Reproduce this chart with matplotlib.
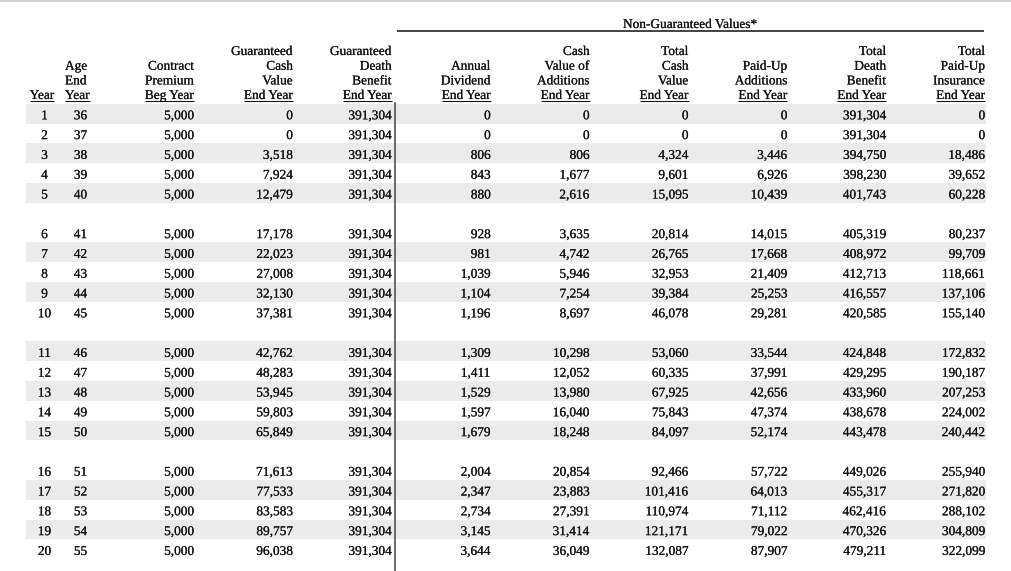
import matplotlib
matplotlib.use("Agg")
import matplotlib.pyplot as plt
import matplotlib.patheffects as pe

# table values
years = list(range(1, 21))
ages = list(range(36, 56))
premium = [5000] * 20
guar_cash = [0, 0, 3518, 7924, 12479, 17178, 22023, 27008, 32130, 37381,
             42762, 48283, 53945, 59803, 65849, 71613, 77533, 83583, 89757, 96038]
guar_death = [391304] * 20
dividend = [0, 0, 806, 843, 880, 928, 981, 1039, 1104, 1196,
            1309, 1411, 1529, 1597, 1679, 2004, 2347, 2734, 3145, 3644]
cash_additions = [0, 0, 806, 1677, 2616, 3635, 4742, 5946, 7254, 8697,
                  10298, 12052, 13980, 16040, 18248, 20854, 23883, 27391, 31414, 36049]
total_cash = [0, 0, 4324, 9601, 15095, 20814, 26765, 32953, 39384, 46078,
              53060, 60335, 67925, 75843, 84097, 92466, 101416, 110974, 121171, 132087]
paid_up_add = [0, 0, 3446, 6926, 10439, 14015, 17668, 21409, 25253, 29281,
               33544, 37991, 42656, 47374, 52174, 57722, 64013, 71112, 79022, 87907]
total_death = [391304, 391304, 394750, 398230, 401743, 405319, 408972, 412713, 416557, 420585,
               424848, 429295, 433960, 438678, 443478, 449026, 455317, 462416, 470326, 479211]
total_paid_up = [0, 0, 18486, 39652, 60228, 80237, 99709, 118661, 137106, 155140,
                 172832, 190187, 207253, 224002, 240442, 255940, 271820, 288102, 304809, 322099]

headers = [
    ["Contract", "Premium", "Beg Year"],
    ["Guaranteed", "Cash", "Value", "End Year"],
    ["Guaranteed", "Death", "Benefit", "End Year"],
    ["Annual", "Dividend", "End Year"],
    ["Cash", "Value of", "Additions", "End Year"],
    ["Total", "Cash", "Value", "End Year"],
    ["Paid-Up", "Additions", "End Year"],
    ["Total", "Death", "Benefit", "End Year"],
    ["Total", "Paid-Up", "Insurance", "End Year"],
]
columns = [premium, guar_cash, guar_death, dividend, cash_additions,
           total_cash, paid_up_add, total_death, total_paid_up]

plt.rcParams['font.family'] = ['Liberation Serif', 'DejaVu Serif']

W, H = 1011, 571
fig = plt.figure(figsize=(W / 100, H / 100), dpi=100)
ax = fig.add_axes([0, 0, 1, 1])
ax.set_xlim(0, W)
ax.set_ylim(H, 0)
ax.axis("off")

fs = 9.6
tc = '#111111'
# the pdf text looks a touch heavier than plain rendering
heavy = [pe.withStroke(linewidth=0.12, foreground=tc)]

right_edges = [194 + 98.9 * i for i in range(9)]
head_base = [55, 69.7, 84.4, 99]
row0 = 119.3
pitch = 19.8

fig.canvas.draw()
renderer = fig.canvas.get_renderer()


def txt(x, y, s, ha):
    return ax.text(x, y, s, ha=ha, va='baseline', fontsize=fs, color=tc, path_effects=heavy)


def underline(t):
    bb = t.get_window_extent(renderer=renderer)
    inv = ax.transData.inverted()
    (x0, _), (x1, _) = inv.transform([(bb.x0, bb.y0), (bb.x1, bb.y0)])
    y = t.get_position()[1] + 1.8
    ax.plot([x0, x1], [y, y], color=tc, lw=0.75, solid_capstyle='butt')


# light border at top
ax.plot([0, W], [0.8, 0.8], color='#d4d4d4', lw=1.6)

# group header
ax.plot([397, 984], [31, 31], color='#222222', lw=1.2, solid_capstyle='butt')
txt(690.5, 28, "Non-Guaranteed Values*", 'center')

# Year / Age headers
underline(txt(42, head_base[3], "Year", 'center'))
for lab, yb in zip(["Age", "End"], head_base[1:3]):
    txt(65, yb, lab, 'left')
underline(txt(65, head_base[3], "Year", 'left'))

for xr, lines in zip(right_edges, headers):
    bases = head_base[-len(lines):]
    for j, (lab, yb) in enumerate(zip(lines, bases)):
        t = txt(xr, yb, lab, 'right')
        if j == len(lines) - 1:
            underline(t)

# rows, grouped by five with a blank line between groups
for i in range(len(years)):
    k = i + i // 5
    yb = row0 + pitch * k
    if i % 2 == 0:
        ax.fill_between([26, 986], yb - 15.5, yb - 15.5 + pitch, color='#ebebeb', lw=0)
    txt(44.5, yb, str(years[i]), 'center')
    txt(80.5, yb, str(ages[i]), 'center')
    for xr, col in zip(right_edges, columns):
        txt(xr, yb, f"{col[i]:,}", 'right')

# separator between guaranteed and non-guaranteed values
ax.plot([394.5, 394.5], [103, H], color='#444444', lw=1.1)

fig.savefig("out.png", dpi=100)
